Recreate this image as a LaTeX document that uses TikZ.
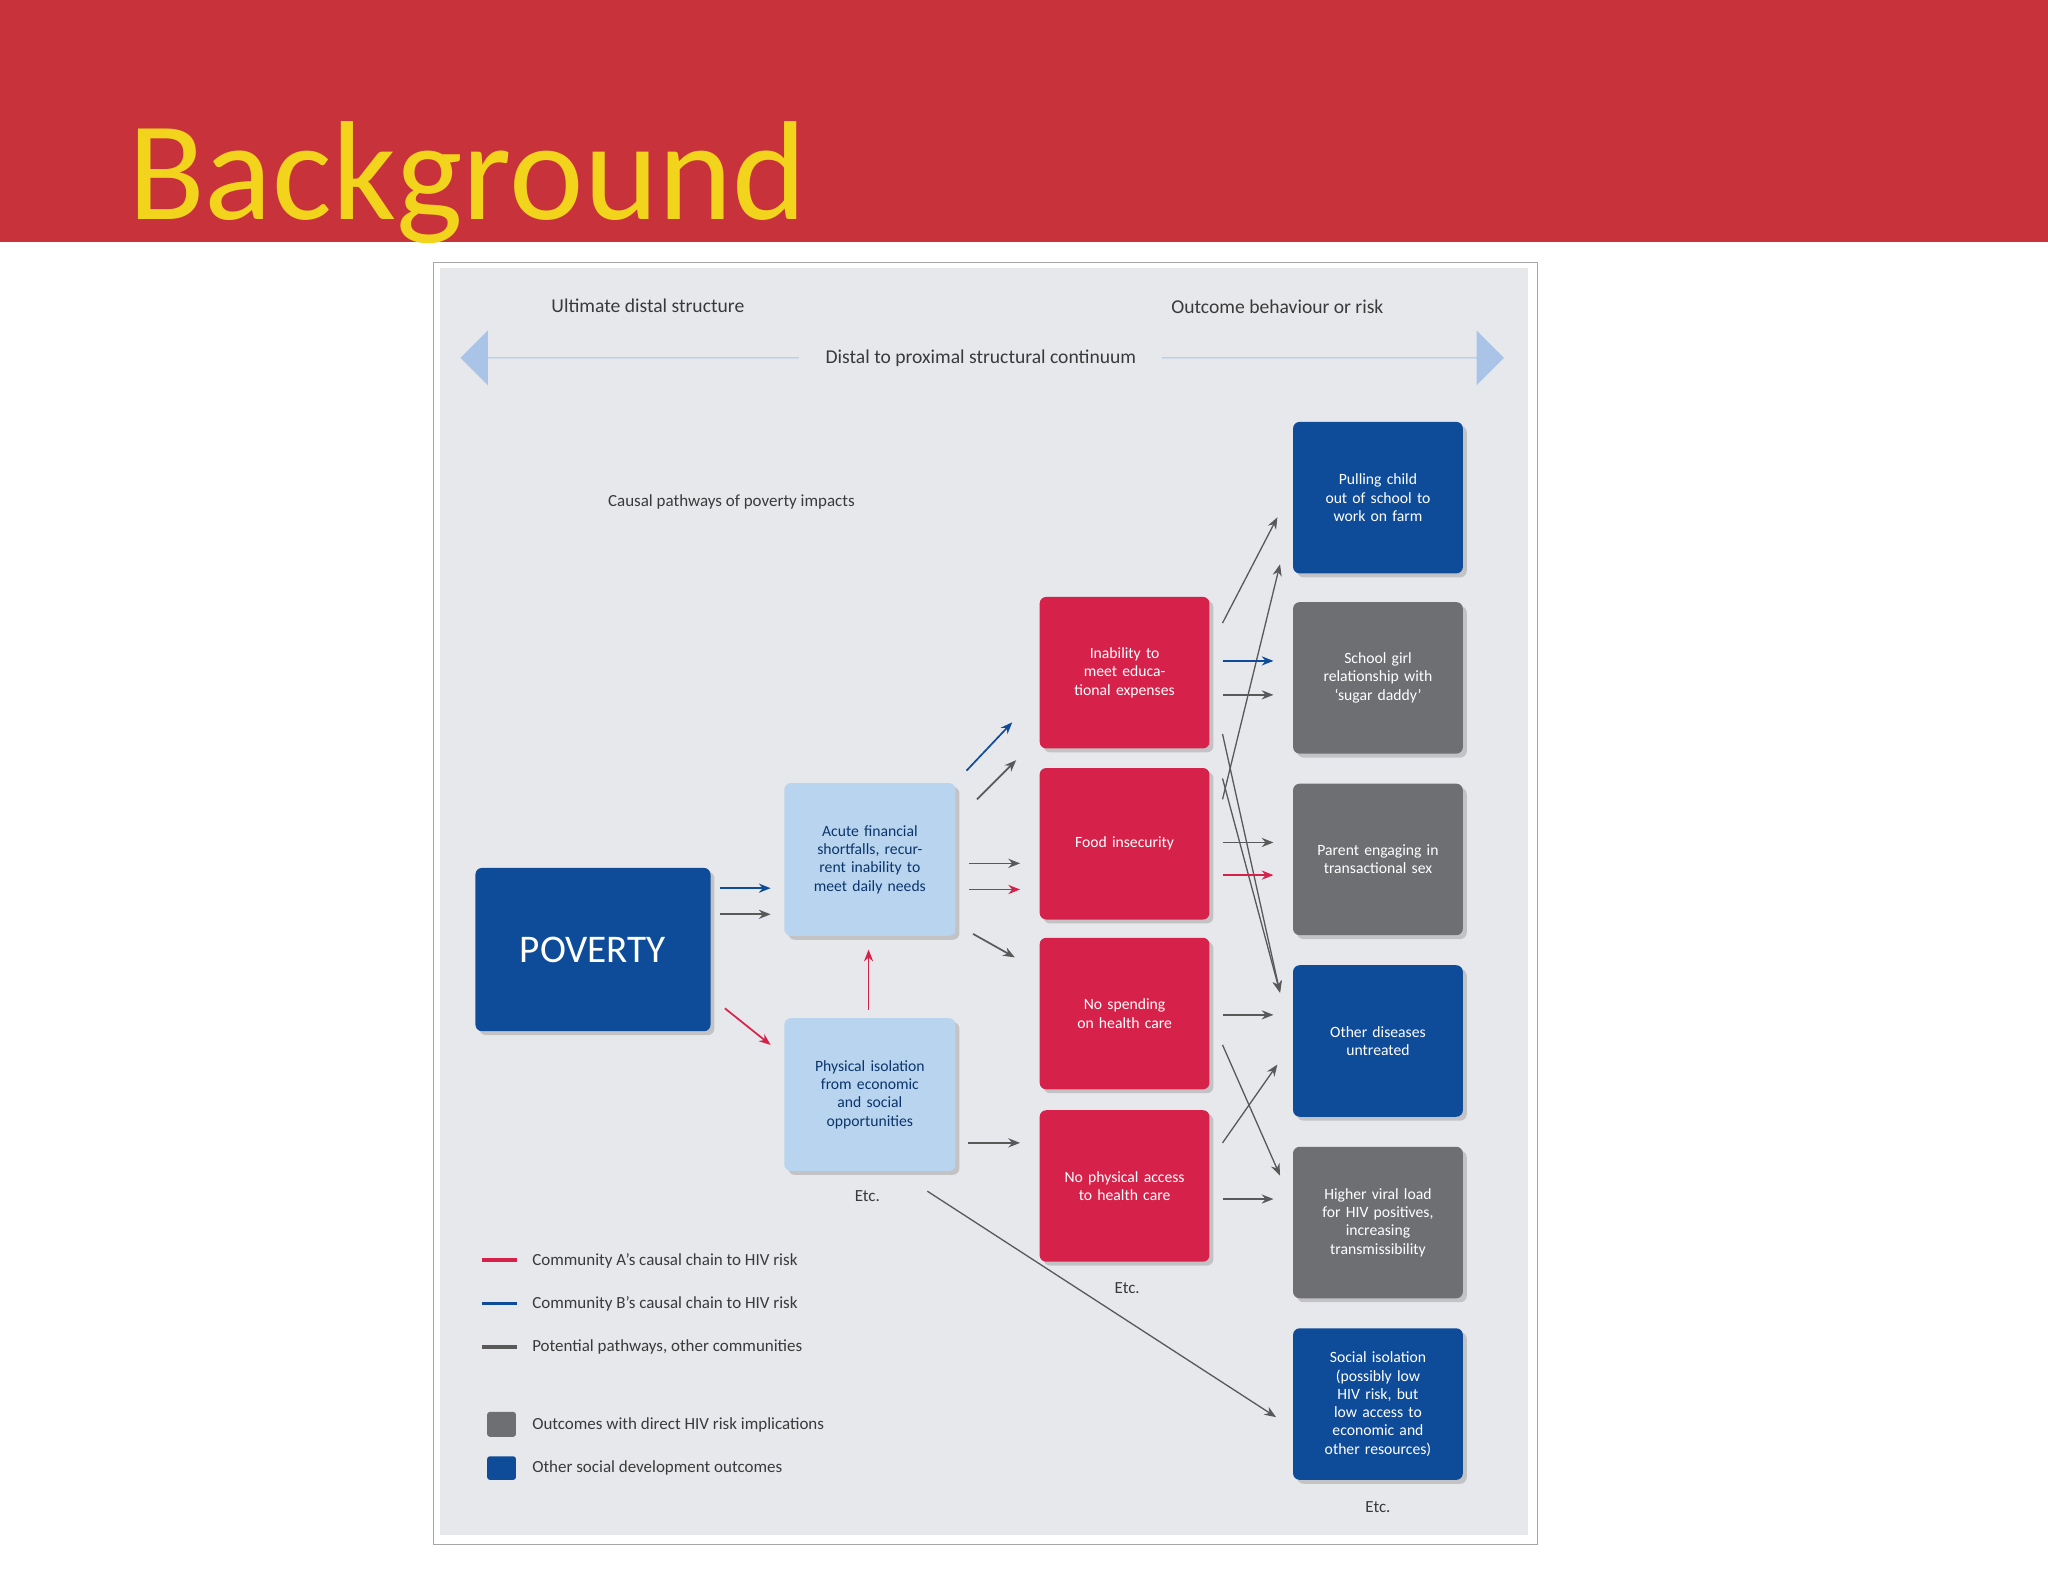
\documentclass[tikz,border=0pt]{standalone}
\usepackage{fontspec}
\setmainfont{Carlito}
\usetikzlibrary{shadows,arrows.meta,shapes.arrows}
\definecolor{hdr}{HTML}{C8323A}
\definecolor{ttl}{HTML}{F2D41C}
\definecolor{dblue}{HTML}{0E4C9A}
\definecolor{lblue}{HTML}{B9D4EF}
\definecolor{cred}{HTML}{D6224A}
\definecolor{cgray}{HTML}{6E6F73}
\definecolor{bg}{HTML}{E7E8EC}
\definecolor{arrb}{HTML}{A9C4E6}
\definecolor{txt}{HTML}{3A3A3A}
\tikzset{
 box/.style={rounded corners=5pt,minimum width=130pt,minimum height=116pt,align=center,text width=95pt,font=\fontsize{12}{14}\selectfont,drop shadow={shadow xshift=3pt,shadow yshift=-3pt,opacity=0.35}},
 redbox/.style={box,fill=cred,text=white},
 bluebox/.style={box,fill=dblue,text=white},
 graybox/.style={box,fill=cgray,text=white},
 lbox/.style={box,fill=lblue,text=dblue!70!black},
 ga/.style={-{Stealth[length=9pt,width=7pt]},line width=1.3pt,gray!70!black},
 ba/.style={ga,dblue},
 ra/.style={ga,cred},
 lbl/.style={font=\fontsize{13}{15}\selectfont,text=txt},
}
\begin{document}
\begin{tikzpicture}[x=1pt,y=-1pt]
\useasboundingbox (0,0) rectangle (1568,1211);
\fill[white] (0,0) rectangle (1568,1211);
\fill[hdr] (0,0) rectangle (1568,185);
\node[anchor=base west,text=ttl,font=\fontsize{108}{110}\selectfont,inner sep=0] (title) at (98,168) {Background};
\draw[gray!70,fill=white] (332,201) rectangle (1177,1182);
\fill[bg] (337,205) rectangle (1170,1175);
\node[lbl,font=\fontsize{15}{17}\selectfont] (ud) at (496,234) {Ultimate distal structure};
\node[lbl,font=\fontsize{15}{17}\selectfont] (ob) at (978,235) {Outcome behaviour or risk};
\node[double arrow,fill=arrb,minimum width=42pt,minimum height=800pt,double arrow head extend=12pt,inner sep=0,minimum height=799pt] (cont) at (752,274) {};
\node[lbl,fill=bg,font=\fontsize{15}{17}\selectfont,minimum width=278pt,inner sep=3pt] (contl) at (751,274) {Distal to proximal structural continuum};
\node[lbl] (cp) at (560,384) {Causal pathways of poverty impacts};
% boxes
\node[bluebox,minimum width=180pt,minimum height=125pt,text width=170pt,font=\fontsize{30}{32}\selectfont] (pov) at (454,727) {POVERTY};
\node[lbox,minimum width=131pt,minimum height=117pt] (acute) at (666,658) {Acute financial shortfalls, recurrent inability to meet daily needs};
\node[lbox,minimum width=131pt,minimum height=117pt] (phys) at (666,838) {Physical isolation from economic and social opportunities};
\node[redbox] (r1) at (861,515) {Inability to meet educational expenses};
\node[redbox] (r2) at (861,646) {Food insecurity};
\node[redbox] (r3) at (861,776) {No spending on health care};
\node[redbox] (r4) at (861,908) {No physical access to health care};
\node[bluebox] (o1) at (1055,381) {Pulling child out of school to work on farm};
\node[graybox] (o2) at (1055,519) {School girl relationship with `sugar daddy'};
\node[graybox] (o3) at (1055,658) {Parent engaging in transactional sex};
\node[bluebox] (o4) at (1055,797) {Other diseases untreated};
\node[graybox] (o5) at (1055,936) {Higher viral load for HIV positives, increasing transmissibility};
\node[bluebox] (o6) at (1055,1075) {Social isolation (possibly low HIV risk, but low access to economic and other resources)};
\node[lbl] (e1) at (664,916) {Etc.};
\node[lbl] (e2) at (863,986) {Etc.};
\node[lbl] (e3) at (1055,1154) {Etc.};
% arrows
\draw[ba] (551,680) coordinate (a1s) -- (590,680) coordinate (a1e);
\draw[ga] (551,700) coordinate (a2s) -- (590,700) coordinate (a2e);
\draw[ra] (555,772) coordinate (a3s) -- (590,800) coordinate (a3e);
\draw[ra] (665,773) coordinate (a4s) -- (665,727) coordinate (a4e);
\draw[ba] (740,590) coordinate (a5s) -- (775,553) coordinate (a5e);
\draw[ga] (748,612) coordinate (a6s) -- (778,582) coordinate (a6e);
\draw[ga] (742,661) coordinate (a7s) -- (781,661) coordinate (a7e);
\draw[ra] (742,681) coordinate (a8s) -- (781,681) coordinate (a8e);
\draw[ga] (745,715) coordinate (a9s) -- (777,733) coordinate (a9e);
\draw[ga] (741,875) coordinate (b1s) -- (781,875) coordinate (b1e);
\draw[ga,line width=1pt] (710,912) coordinate (b2s) -- (977,1085) coordinate (b2e);
\draw[ga,line width=1pt] (936,477) coordinate (c1s) -- (978,396) coordinate (c1e);
\draw[ga,line width=1pt] (936,612) coordinate (c2s) -- (980,432) coordinate (c2e);
\draw[ba] (936,506) coordinate (c3s) -- (975,506) coordinate (c3e);
\draw[ga] (936,532) coordinate (c4s) -- (975,532) coordinate (c4e);
\draw[ga,line width=1pt] (936,562) coordinate (c5s) -- (980,760) coordinate (c5e);
\draw[ga,line width=1pt] (936,596) coordinate (c6s) -- (980,760) coordinate (c6e);
\draw[ga] (936,645) coordinate (c7s) -- (975,645) coordinate (c7e);
\draw[ra] (936,670) coordinate (c8s) -- (975,670) coordinate (c8e);
\draw[ga] (936,777) coordinate (c9s) -- (975,777) coordinate (c9e);
\draw[ga,line width=1pt] (936,800) coordinate (d1s) -- (980,900) coordinate (d1e);
\draw[ga,line width=1pt] (936,875) coordinate (d2s) -- (978,815) coordinate (d2e);
\draw[ga] (936,918) coordinate (d3s) -- (975,918) coordinate (d3e);
% legend
\draw[cred,line width=3pt] (369,965) coordinate (l1s) -- (396,965) coordinate (l1e);
\node[lbl,anchor=west] (lt1) at (404,965) {Community A's causal chain to HIV risk};
\draw[dblue,line width=3pt] (369,998) coordinate (l2s) -- (396,998) coordinate (l2e);
\node[lbl,anchor=west] (lt2) at (404,998) {Community B's causal chain to HIV risk};
\draw[gray!70!black,line width=3pt] (369,1031) coordinate (l3s) -- (396,1031) coordinate (l3e);
\node[lbl,anchor=west] (lt3) at (404,1031) {Potential pathways, other communities};
\fill[cgray,rounded corners=2pt] (373,1081) rectangle (395,1100);
\node[lbl,anchor=west] (lt4) at (404,1091) {Outcomes with direct HIV risk implications};
\fill[dblue,rounded corners=2pt] (373,1115) rectangle (395,1133);
\node[lbl,anchor=west] (lt5) at (404,1124) {Other social development outcomes};
\end{tikzpicture}
\end{document}
